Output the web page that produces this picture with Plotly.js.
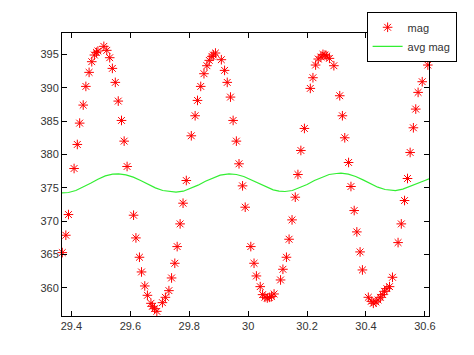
<!DOCTYPE html>
<html>
<head>
<meta charset="utf-8">
<script src="https://cdn.plot.ly/plotly-3.0.1.min.js"></script>
<style>html,body{margin:0;padding:0;background:#fff;}#chart{width:474px;height:355px;}</style>
</head>
<body>
<div id="chart"></div>
<script>
// Measured magnitudes (red asterisks)
const magX = [29.369,29.381,29.390,29.409,29.420,29.428,29.440,29.449,29.460,29.469,29.478,29.485,29.490,29.510,29.520,29.530,29.539,29.549,29.559,29.570,29.579,29.589,
29.611,29.619,29.631,29.638,29.649,29.658,29.670,29.675,29.682,29.690,29.709,29.719,29.731,29.740,29.751,29.759,29.769,29.779,29.790,
29.807,29.820,29.828,29.839,29.850,29.860,29.868,29.877,29.882,29.889,29.909,29.920,29.929,29.940,29.949,29.960,29.969,29.981,29.990,
30.009,30.020,30.028,30.041,30.049,30.057,30.065,30.072,30.079,30.088,30.110,30.118,30.130,30.139,30.149,30.160,30.169,30.179,30.191,
30.211,30.220,30.229,30.238,30.247,30.254,30.261,30.267,30.276,30.291,30.311,30.320,30.328,30.341,30.349,30.360,30.369,30.380,30.388,
30.408,30.418,30.425,30.434,30.441,30.449,30.457,30.463,30.471,30.480,30.490,30.509,30.520,30.531,30.541,30.550,30.561,30.569,30.577,30.591,30.610];
const magY = [365.3,367.9,371.0,377.9,381.5,384.7,387.4,390.2,392.3,393.9,394.9,395.3,395.5,396.2,395.6,394.5,392.9,390.8,388.0,385.1,382.0,378.2,
370.9,367.5,364.6,362.4,360.3,358.9,357.7,357.25,356.9,356.5,357.8,358.6,359.6,361.5,363.7,366.2,369.6,372.7,376.1,
382.8,385.8,388.1,390.2,392.1,393.3,394.1,394.7,394.9,395.2,394.2,392.6,390.8,388.6,385.1,382.0,378.6,375.3,372.1,
366.2,363.7,361.8,360.2,359.0,358.6,358.5,358.6,358.7,359.1,361.2,362.8,364.6,367.3,370.2,373.6,377.0,380.6,383.9,
389.9,391.5,393.4,394.3,394.6,395.0,394.9,394.75,394.4,393.3,388.8,385.8,382.5,378.8,375.2,371.6,368.4,365.4,362.7,
358.6,358.0,357.7,357.9,358.2,358.6,359.0,359.5,359.9,360.2,361.6,366.8,369.6,373.1,376.4,380.3,384.0,386.8,389.3,390.9,393.4];

// Running average magnitude (green line)
const avgX = [29.368,29.39,29.415,29.44,29.465,29.49,29.515,29.54,29.56,29.585,29.61,29.635,29.66,29.685,29.71,29.735,29.755,29.78,29.805,29.83,29.855,29.88,29.905,29.935,29.96,29.985,
30.01,30.035,30.06,30.085,30.105,30.125,30.15,30.175,30.2,30.225,30.25,30.275,30.3,30.315,30.34,30.365,30.39,30.415,30.44,30.465,30.485,30.5,30.525,30.55,30.575,30.6,30.614];
const avgY = [374.25,374.3,374.6,375.1,375.7,376.3,376.8,377.05,377.1,376.95,376.6,376.1,375.5,375.0,374.6,374.4,374.35,374.5,374.9,375.4,376.0,376.5,376.9,377.1,377.0,376.7,
376.2,375.65,375.1,374.7,374.5,374.45,374.6,375.0,375.5,376.1,376.6,377.0,377.15,377.2,377.05,376.7,376.2,375.6,375.1,374.75,374.6,374.6,374.8,375.2,375.7,376.1,376.35];

const xTicks = [29.4,29.6,29.8,30,30.2,30.4,30.6];
const xTickText = ["29.4","29.6","29.8","30","30.2","30.4","30.6"];
const yTicks = [360,365,370,375,380,385,390,395];

const font = {family: "Liberation Sans, Arial, sans-serif", size: 11, color: "#333"};

const traces = [
  {x: magX, y: magY, name: "mag", type: "scatter", mode: "markers", cliponaxis: false,
   marker: {symbol: "asterisk-open", size: 8, color: "#ff0000", line: {color: "#ff0000", width: 1}}},
  {x: avgX, y: avgY, name: "avg mag", type: "scatter", mode: "lines",
   line: {color: "#33ee33", width: 1.2}}
];

const axisCommon = {
  showline: true, linecolor: "#000", linewidth: 1, mirror: "ticks",
  ticks: "inside", ticklen: 5, tickcolor: "#000", tickwidth: 1,
  showgrid: false, zeroline: false, tickfont: font
};

const layout = {
  width: 474, height: 355,
  margin: {l: 62, r: 45, t: 27, b: 39, pad: 0},
  paper_bgcolor: "#fff", plot_bgcolor: "#fff",
  font: font,
  showlegend: true,
  xaxis: Object.assign({}, axisCommon, {range: [29.368, 30.614], tickmode: "array", tickvals: xTicks, ticktext: xTickText}),
  yaxis: Object.assign({}, axisCommon, {range: [355.8, 398.2], tickmode: "array", tickvals: yTicks}),
  legend: {x: 0.83, y: 1.075, xanchor: "left", yanchor: "top", bgcolor: "#fff",
           bordercolor: "#000", borderwidth: 1, font: font, tracegroupgap: 0}
};

Plotly.newPlot("chart", traces, layout, {staticPlot: true, displayModeBar: false});
</script>
</body>
</html>
